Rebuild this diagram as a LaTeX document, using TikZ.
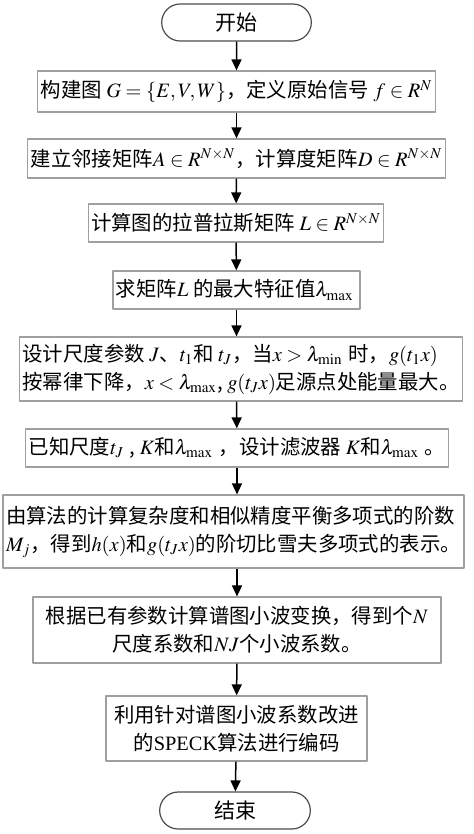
\documentclass[tikz,border=0pt]{standalone}
\usepackage{mathptmx}
\usepackage{fontspec}
\setmainfont{Noto Sans CJK SC}
\newfontfamily\latinfont{Liberation Serif}
\usetikzlibrary{arrows.meta,shapes.misc}
\begin{document}
\begin{tikzpicture}[x=0.5pt,y=-0.5pt,line join=round]
\tikzstyle{box} = [draw=gray!75,line width=0.6pt,inner sep=1.5pt,font=\fontsize{10.2}{14}\selectfont]
\tikzstyle{term} = [draw=black!70,line width=0.6pt,rounded rectangle,font=\fontsize{10.5}{14}\selectfont]
\tikzstyle{flow} = [line width=0.75pt,-{Triangle[length=5.5pt,width=5pt]}]
\useasboundingbox (0,0) rectangle (474,834);
%debut et fin
\draw(236.5,22.5)node[term,minimum width=81.5pt,minimum height=18.5pt](start){开始};
\draw(235,810.5)node[term,minimum width=82pt,minimum height=18.5pt](stop){结束};
%etapes
\draw(236.5,91.5)node[box,minimum width=196.5pt,minimum height=20.5pt](b1){构建图 $G=\{E,V,W\}$，定义原始信号 $f\in R^N$};
\draw(236.5,158.5)node[box,minimum width=196.5pt,minimum height=19.5pt](b2){建立邻接矩阵$A\in R^{N\times N}$，计算度矩阵$D\in R^{N\times N}$};
\draw(236,223)node[box,minimum width=147pt,minimum height=19pt](b3){计算图的拉普拉斯矩阵 $L\in R^{N\times N}$};
\draw(236.5,290)node[box,minimum width=120.5pt,minimum height=19pt](b4){求矩阵$L$ 的最大特征值$\lambda_{\max}$\,};
\draw(241,369)node[box,minimum width=217pt,minimum height=32pt,align=left](b5){设计尺度参数 $J$、$t_1$和 $t_J$，当$x>\lambda_{\min}$\;时，$g(t_1x)$\\按幂律下降，$x<\lambda_{\max}$, $g(t_Jx)$足源点处能量最大。};
\draw(237,448)node[box,minimum width=207pt,minimum height=19pt](b6){已知尺度$t_J$\;, $K$和$\lambda_{\max}$\;，设计滤波器 $K$和$\lambda_{\max}$\;。};
\draw(233.5,531.5)node[box,minimum width=229.5pt,minimum height=36.5pt,align=left](b7){由算法的计算复杂度和相似精度平衡多项式的阶数\\$M_j$，得到$h(x)$和$g(t_Jx)$的阶切比雪夫多项式的表示。};
\draw(237,630)node[box,minimum width=204pt,minimum height=33pt,align=center](b8){根据已有参数计算谱图小波变换，得到个$N$\\尺度系数和$NJ$个小波系数。};
\draw(236.5,728.5)node[box,minimum width=130.5pt,minimum height=32.5pt,align=center](b9){利用针对谱图小波系数改进\\的{\latinfont SPECK}算法进行编码};
%fleches
\draw[flow] (start) -- (b1);
\draw[flow] (b1) -- (b2);
\draw[flow] (b2) -- (b3);
\draw[flow] (b3) -- (b4);
\draw[flow] (b4) -- (b4|-b5.north);
\draw[flow] (b5.south-|b4) -- (b6);
\draw[flow] (b6) -- (b6|-b7.north);
\draw[flow] (b7.south-|b6) -- (b8);
\draw[flow] (b8) -- (b9);
\draw[flow] (b9) -- (stop);
\end{tikzpicture}
\end{document}
